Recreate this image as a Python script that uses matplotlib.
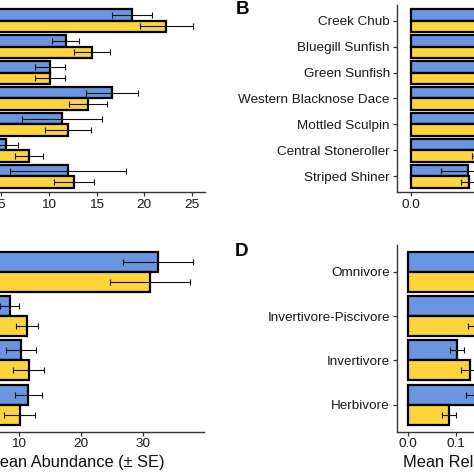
import matplotlib
matplotlib.use("Agg")
import matplotlib.pyplot as plt
import numpy as np

plt.rcParams['font.family'] = ['Liberation Sans', 'DejaVu Sans']

BLUE = "#6A95E0"
YELLOW = "#FDD43C"

# ---- Data ----
species = ["Creek Chub", "Bluegill Sunfish", "Green Sunfish", "Western Blacknose Dace",
           "Mottled Sculpin", "Central Stoneroller", "Striped Shiner"]
# Panel A: mean abundance (± SE)
a_blue = [18.75, 11.75, 10.1, 16.6, 11.4, 5.47, 12.0]
a_blue_se = [2.1, 1.4, 1.6, 2.75, 4.2, 1.33, 6.1]
a_yellow = [22.3, 14.5, 10.1, 14.1, 12.0, 7.95, 12.6]
a_yellow_se = [2.8, 1.9, 1.6, 1.95, 2.45, 1.47, 2.1]

# Panel B: mean relative abundance (± SE)
b_blue = [0.42, 0.30, 0.26, 0.33, 0.24, 0.21, 0.119]
b_blue_se = [0.08, 0.05, 0.05, 0.06, 0.05, 0.05, 0.057]
b_yellow = [0.50, 0.34, 0.25, 0.30, 0.26, 0.16, 0.122]
b_yellow_se = [0.10, 0.06, 0.05, 0.05, 0.05, 0.032, 0.017]

guilds = ["Omnivore", "Invertivore-Piscivore", "Invertivore", "Herbivore"]
# Panel C: mean abundance (± SE)
c_blue = [32.5, 8.5, 10.3, 11.5]
c_blue_se = [5.6, 1.5, 2.45, 2.15]
c_yellow = [31.2, 11.3, 11.6, 10.1]
c_yellow_se = [6.5, 1.8, 2.5, 2.5]

# Panel D: mean relative abundance (± SE)
d_blue = [0.42, 0.30, 0.102, 0.15]
d_blue_se = [0.066, 0.04, 0.014, 0.028]
d_yellow = [0.40, 0.16, 0.130, 0.085]
d_yellow_se = [0.06, 0.035, 0.020, 0.015]

W = H = 474


def px_axes(fig, left, right, top, bottom):
    return fig.add_axes([left / W, 1 - bottom / H, (right - left) / W, (bottom - top) / H])


def panel(ax, cats, blue, blue_se, yellow, yellow_se, xticks=None, xticklabels=None, xlabel=None):
    n = len(cats)
    pos = np.arange(1, n + 1)
    bw = 0.45
    ax.barh(pos - bw / 2, blue, height=bw, color=BLUE, edgecolor="black", linewidth=1.6, zorder=2)
    ax.barh(pos + bw / 2, yellow, height=bw, color=YELLOW, edgecolor="black", linewidth=1.6, zorder=2)
    ax.errorbar(blue, pos - bw / 2, xerr=blue_se, fmt="none", ecolor="#111111",
                elinewidth=0.8, capsize=2.2, capthick=0.8, zorder=3)
    ax.errorbar(yellow, pos + bw / 2, xerr=yellow_se, fmt="none", ecolor="#111111",
                elinewidth=0.8, capsize=2.2, capthick=0.8, zorder=3)
    m = max(max(np.add(blue, blue_se)), max(np.add(yellow, yellow_se)))
    ax.set_xlim(-0.05 * m, 1.05 * m)
    ax.set_ylim(n + 0.6, 0.4)
    ax.set_yticks(pos)
    ax.set_yticklabels(cats)
    if xticks is not None:
        ax.set_xticks(xticks)
        ax.set_xticklabels(xticklabels)
    for s in ["top", "right"]:
        ax.spines[s].set_visible(False)
    for s in ["left", "bottom"]:
        ax.spines[s].set_color("#333333")
        ax.spines[s].set_linewidth(1.0)
    ax.tick_params(axis="both", length=3, width=0.9, color="#333333",
                   labelsize=9.7, labelcolor="#1a1a1a", pad=2)
    if xlabel:
        ax.set_xlabel(xlabel, fontsize=11.8, color="#111111", labelpad=3)


fig = plt.figure(figsize=(4.74, 4.74), dpi=100)

axA = px_axes(fig, -58.5, 205, 5, 192)
panel(axA, species, a_blue, a_blue_se, a_yellow, a_yellow_se,
      xticks=[0, 5, 10, 15, 20, 25], xticklabels=["0", "5", "10", "15", "20", "25"])

axB = px_axes(fig, 396.7, 711.5, 5, 192)
panel(axB, species, b_blue, b_blue_se, b_yellow, b_yellow_se,
      xticks=[0, 0.2, 0.4, 0.6], xticklabels=["0.0", "0.2", "0.4", "0.6"])

axC = px_axes(fig, -54.6, 204.4, 245, 431.5)
panel(axC, guilds, c_blue, c_blue_se, c_yellow, c_yellow_se,
      xticks=[0, 10, 20, 30], xticklabels=["0", "10", "20", "30"],
      xlabel="Mean Abundance (± SE)")

axD = px_axes(fig, 396.7, 651.7, 245, 431.5)
panel(axD, guilds, d_blue, d_blue_se, d_yellow, d_yellow_se,
      xticks=[0, 0.1, 0.2, 0.3, 0.4], xticklabels=["0.0", "0.1", "0.2", "0.3", "0.4"],
      xlabel="Mean Relative Abundance (± SE)")

fig.text(236 / W, 1 - 10 / H, "B", fontsize=13.5, fontweight="bold", va="center", ha="left")
fig.text(235 / W, 1 - 252 / H, "D", fontsize=13.5, fontweight="bold", va="center", ha="left")
fig.text(-60 / W, 1 - 10 / H, "A", fontsize=13.5, fontweight="bold", va="center", ha="left")
fig.text(-60 / W, 1 - 252 / H, "C", fontsize=13.5, fontweight="bold", va="center", ha="left")

fig.savefig("out.png", dpi=100)
